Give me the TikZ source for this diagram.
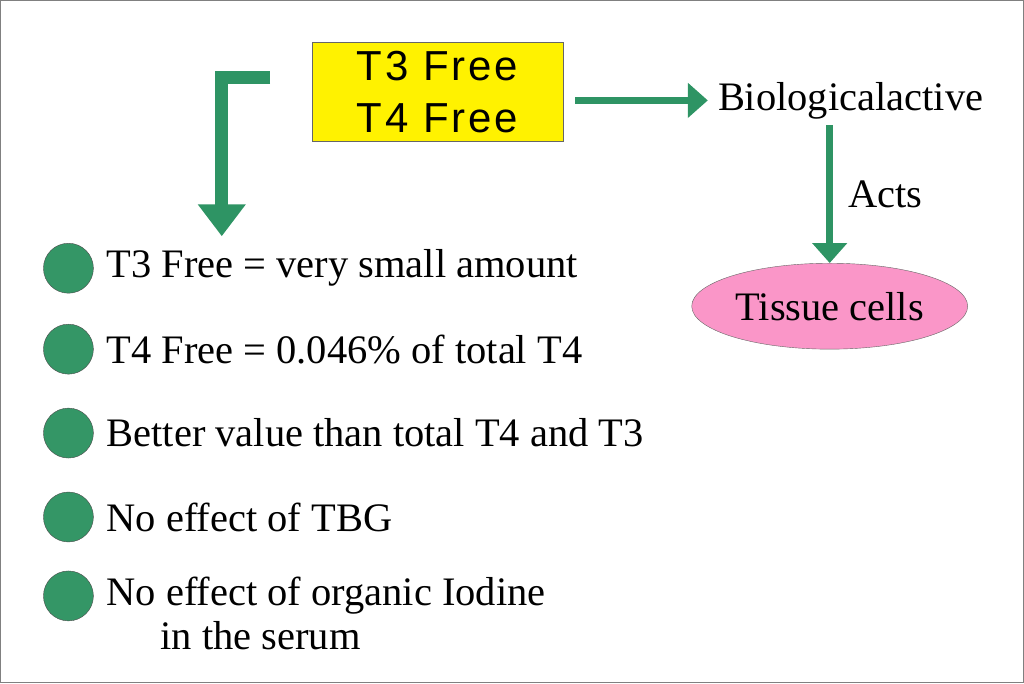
\documentclass[tikz,border=0pt]{standalone}
\usepackage{fontspec}
\setmainfont{Liberation Serif}
\newfontfamily\boxfont[LetterSpace=7]{Liberation Sans}
\usetikzlibrary{shapes.geometric,arrows.meta}
\definecolor{arrowgreen}{RGB}{46,148,100}
\definecolor{dotgreen}{RGB}{52,150,102}
\definecolor{cellpink}{RGB}{250,150,200}
\tikzset{
  flow/.style={draw=arrowgreen,line width=7pt,-{Triangle[length=20pt,width=34pt]}},
  bullet dot/.style={circle,fill=dotgreen,draw=black!70,minimum size=50pt,inner sep=0pt},
  point text/.style={anchor=west,font=\fontsize{40.5}{46}\selectfont,inner sep=0pt}
}
\begin{document}
\begin{tikzpicture}[x=1pt,y=-1pt]
\draw[black!50,line width=1pt] (0,0) rectangle (1024,683);
\node[fill=yellow,draw=black!60,minimum width=251pt,minimum height=99pt,align=center,
  font=\boxfont\fontsize{42}{52}\selectfont] (free) at (437.5,91.5) {T3 Free\\T4 Free};
\node[anchor=west,inner sep=0pt,font=\fontsize{40.5}{46}\selectfont] (bio) at (718,100) {Biologicalactive};
\node[ellipse,fill=cellpink,draw=black!60,minimum width=270pt,minimum height=86pt,
  font=\fontsize{40.5}{46}\selectfont] (cells) at (830,306) {Tissue cells};
\coordinate (start) at (270,77);
\coordinate (turn) at (228,77);
\coordinate (down) at (228,236);
% arrows
\draw[flow,shorten >=10pt] (free.east |- 0,100) ++(12,0) -- (bio.west);
\draw[flow] (830,125) -- node[right=12pt,font=\fontsize{40.5}{46}\selectfont,text=black]{Acts} (cells.north);
\draw[draw=arrowgreen,line width=13pt,-{Triangle[length=32pt,width=46pt]}] (start) -- ([xshift=-6.5pt]turn) -- ([xshift=-6.5pt]down);
% points
\foreach \y/\txt [count=\i] in {268/{T3 Free = very small amount},349/{T4 Free = 0.046\% of total T4},
  433/{Better value than total T4 and T3},517/{No effect of TBG},596/{No effect of organic Iodine}}{
  \node[bullet dot] (dot\i) at (68,\y) {};
  \node[point text] (pt\i) at (106,\y) {\txt};
}
\node[point text] (pt6) at (160,636) {in the serum};
\end{tikzpicture}
\end{document}
